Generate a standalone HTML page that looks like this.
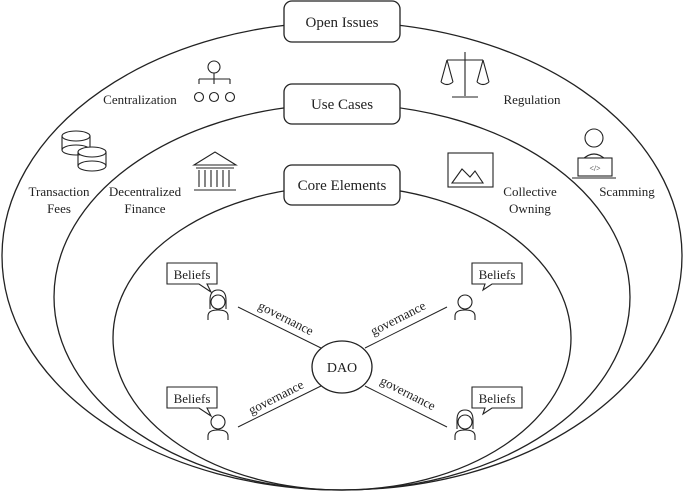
<!DOCTYPE html><html><head><style>body{margin:0;background:#fff}svg{display:block}text{font-family:"Liberation Serif",serif;fill:#222}</style></head><body>
<svg width="685" height="491" viewBox="0 0 685 491" xmlns="http://www.w3.org/2000/svg">
<g fill="none" stroke="#222" stroke-width="1.3">
<ellipse cx="342" cy="256" rx="340" ry="234"/>
<ellipse cx="342" cy="297" rx="288" ry="193"/>
<ellipse cx="342" cy="338" rx="229" ry="152"/>
</g>
<g fill="#fff" stroke="#222" stroke-width="1.3">
<rect x="284" y="1" width="116" height="41" rx="8"/>
<rect x="284" y="84" width="116" height="40" rx="8"/>
<rect x="284" y="165" width="116" height="40" rx="8"/>
</g>
<g font-size="15" text-anchor="middle">
<text x="342" y="27">Open Issues</text>
<text x="342" y="109">Use Cases</text>
<text x="342" y="190">Core Elements</text>
</g>
<g font-size="13" text-anchor="middle">
<text x="140" y="104">Centralization</text>
<text x="532" y="104">Regulation</text>
<text x="59" y="196">Transaction</text><text x="59" y="213">Fees</text>
<text x="145" y="196">Decentralized</text><text x="145" y="213">Finance</text>
<text x="530" y="196">Collective</text><text x="530" y="213">Owning</text>
<text x="627" y="196">Scamming</text>
</g>
<g stroke="#222" stroke-width="1">
<line x1="238" y1="307" x2="321" y2="348"/>
<line x1="447" y1="307" x2="365" y2="348"/>
<line x1="238" y1="427" x2="321" y2="386"/>
<line x1="447" y1="427" x2="365" y2="386"/>
</g>
<ellipse cx="342" cy="367" rx="30" ry="26" fill="#fff" stroke="#222" stroke-width="1.3"/>
<text x="342" y="372" font-size="14" text-anchor="middle">DAO</text>
<g font-size="13" text-anchor="middle">
<text transform="translate(284,322) rotate(27)">governance</text>
<text transform="translate(400,322) rotate(-27)">governance</text>
<text transform="translate(278,401) rotate(-27)">governance</text>
<text transform="translate(406,397) rotate(27)">governance</text>
</g>
<g fill="#fff" stroke="#222" stroke-width="1.1">
<path d="M167,263 h50 v21 h-10 l4,8 -12,-8 h-32 z"/>
<path d="M472,263 h50 v21 h-30 l-9,6 2,-6 h-13 z"/>
<path d="M167,387 h50 v21 h-10 l4,8 -12,-8 h-32 z"/>
<path d="M472,387 h50 v21 h-30 l-9,6 2,-6 h-13 z"/>
</g>
<g font-size="13" text-anchor="middle">
<text x="192" y="279">Beliefs</text><text x="497" y="279">Beliefs</text>
<text x="192" y="403">Beliefs</text><text x="497" y="403">Beliefs</text>
</g>
<g fill="none" stroke="#222" stroke-width="1.1">
<circle cx="218" cy="302" r="7"/><path d="M210,300 q0,-10 8,-10 q8,0 8,10 v9 M210,300 v9"/><path d="M208,320 v-4 q0,-6 10,-6 q10,0 10,6 v4"/>
<circle cx="465" cy="302" r="7"/><path d="M455,320 v-4 q0,-6 10,-6 q10,0 10,6 v4"/>
<circle cx="218" cy="422" r="7"/><path d="M208,440 v-4 q0,-6 10,-6 q10,0 10,6 v4"/>
<circle cx="465" cy="422" r="7"/><path d="M457,420 q0,-10 8,-10 q8,0 8,10 v9 M457,420 v9"/><path d="M455,440 v-4 q0,-6 10,-6 q10,0 10,6 v4"/>
<circle cx="214" cy="67" r="6"/><path d="M214,73 v6 M199,79 h31 M199,79 v5 M214,79 v5 M230,79 v5"/>
<circle cx="199" cy="97" r="4.5"/><circle cx="214" cy="97" r="4.5"/><circle cx="230" cy="97" r="4.5"/>
<path d="M465,52 v44 M452,97 h26 M447,60 h36 M447,60 l-6,22 M447,60 l6,22 M483,60 l-6,22 M483,60 l6,22 M441,82 q6,5 12,0 M477,82 q6,5 12,0"/>
<path d="M194,165 l21,-13 l21,13 z M196,168 h38 M199,170 v17 M205,170 v17 M211,170 v17 M217,170 v17 M223,170 v17 M229,170 v17 M194,190 h42"/>
<rect x="448" y="153" width="45" height="34"/><path d="M452,183 l10,-14 l8,8 l5,-6 l8,12 z"/>
<circle cx="594" cy="138" r="9"/><path d="M582,160 q12,-12 24,0"/><rect x="578" y="158" width="34" height="18" fill="#fff"/><path d="M572,178 h44"/>
<ellipse cx="76" cy="136" rx="14" ry="5"/><path d="M62,136 v14 M90,136 v14"/><ellipse cx="76" cy="150" rx="14" ry="5"/>
<ellipse cx="92" cy="152" rx="14" ry="5" fill="#fff"/><path d="M78,152 v14 M106,152 v14"/><ellipse cx="92" cy="166" rx="14" ry="5"/>
</g>
<text x="595" y="171" font-size="8" text-anchor="middle">&lt;/&gt;</text>
</svg></body></html>
